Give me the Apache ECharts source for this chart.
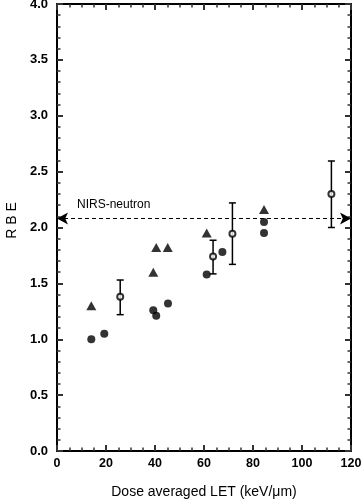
<!DOCTYPE html>
<html><head><meta charset="utf-8">
<script src="https://cdn.jsdelivr.net/npm/echarts@6/dist/echarts.min.js"></script>
<style>html,body{margin:0;padding:0;background:#fff}#c{width:361px;height:500px}</style>
</head><body><div id="c"></div>
<script>
// ---- data ----
const xTickLabels = ['0','20','40','60','80','100','120'];
const yTickLabels = ['0.0','0.5','1.0','1.5','2.0','2.5','3.0','3.5','4.0'];
const triangleLET = [14, 39.3, 40.5, 45.2, 61.1, 84.5];
const triangleRBE = [1.30, 1.60, 1.82, 1.82, 1.95, 2.16];
const circleLET = [14, 19.3, 39.3, 40.5, 45.3, 61.1, 67.5, 84.5, 84.5];
const circleRBE = [1.00, 1.05, 1.26, 1.21, 1.32, 1.58, 1.78, 2.05, 1.95];
const openLET = [25.8, 63.7, 71.6, 112];
const openRBE = [1.38, 1.74, 1.945, 2.30];
const openLow = [1.22, 1.585, 1.67, 2.00];
const openHigh = [1.53, 1.886, 2.22, 2.595];
const neutronRBE = 2.08;
const neutronName = 'NIRS-neutron';
const xName = 'Dose averaged LET (keV/\u03bcm)';
const yName = 'R B E';

const FONT = "'Liberation Sans', Arial, sans-serif";
const TICK = '#333333';
const chart = echarts.init(document.getElementById('c'), null, {renderer: 'canvas'});

function axis(base, position, showLabel, minorSplit, extra) {
  return Object.assign({}, base, {
    position: position,
    axisLine: {show: true, onZero: false, lineStyle: {color: '#000', width: 2}},
    axisTick: {show: true, inside: true, length: 6, lineStyle: {color: TICK, width: 2}},
    minorTick: {show: true, splitNumber: minorSplit, length: 3.5, lineStyle: {color: TICK, width: 1.5}},
    splitLine: {show: false},
    axisLabel: {show: showLabel}
  }, extra || {});
}

const xBase = {type: 'value', min: 0, max: 120, interval: 20};
const yBase = {type: 'value', min: 0, max: 4, interval: 0.5};

const option = {
  animation: false,
  grid: {left: 57, right: 10, top: 4, bottom: 49, outerBoundsMode: 'none'},
  xAxis: [
    axis(xBase, 'bottom', true, 4, {
      axisLabel: {show: true, color: '#000', fontFamily: FONT, fontWeight: 'bold', fontSize: 12.5, margin: 6,
        formatter: v => xTickLabels[Math.round(v / 20)]},
      name: xName, nameLocation: 'middle', nameGap: 34,
      nameTextStyle: {color: '#000', fontFamily: FONT, fontSize: 14}
    }),
    axis(xBase, 'top', false, 4)
  ],
  yAxis: [
    axis(yBase, 'left', true, 5, {
      axisLabel: {show: true, color: '#000', fontFamily: FONT, fontWeight: 'bold', fontSize: 13, margin: 9,
        formatter: v => yTickLabels[Math.round(v / 0.5)]},
      name: yName, nameLocation: 'middle', nameGap: 38, nameRotate: 90,
      nameTextStyle: {color: '#000', fontFamily: FONT, fontSize: 14, padding: [0, 0, 0, 14]}
    }),
    axis(yBase, 'right', false, 5)
  ],
  series: [
    {
      type: 'line', xAxisIndex: 0, yAxisIndex: 0, data: [], silent: true,
      markLine: {
        silent: true,
        symbol: ['arrow', 'arrow'], symbolSize: [9, 11],
        itemStyle: {color: '#000'},
        lineStyle: {color: '#000', type: [4, 3], width: 1},
        label: {show: true, position: 'insideStartTop', formatter: neutronName, distance: [20, 8],
          color: '#000', fontFamily: FONT, fontSize: 12},
        data: [[{coord: [0, neutronRBE]}, {coord: [120, neutronRBE]}]]
      }
    },
    {
      type: 'custom', xAxisIndex: 0, yAxisIndex: 0, silent: true,
      data: openLET.map((x, i) => [x, openLow[i], openHigh[i]]),
      renderItem: function (params, api) {
        const lo = api.coord([api.value(0), api.value(1)]);
        const hi = api.coord([api.value(0), api.value(2)]);
        const w = 3.5;
        const style = {stroke: '#000', lineWidth: 1.5};
        return {type: 'group', children: [
          {type: 'line', shape: {x1: lo[0], y1: lo[1], x2: hi[0], y2: hi[1]}, style: style},
          {type: 'line', shape: {x1: lo[0] - w, y1: lo[1], x2: lo[0] + w, y2: lo[1]}, style: style},
          {type: 'line', shape: {x1: hi[0] - w, y1: hi[1], x2: hi[0] + w, y2: hi[1]}, style: style}
        ]};
      },
      z: 3
    },
    {
      type: 'scatter', xAxisIndex: 0, yAxisIndex: 0, symbol: 'triangle', symbolSize: [10, 9],
      itemStyle: {color: '#000'},
      data: triangleLET.map((x, i) => [x, triangleRBE[i]]), z: 4
    },
    {
      type: 'scatter', xAxisIndex: 0, yAxisIndex: 0, symbol: 'circle', symbolSize: 8,
      itemStyle: {color: '#000'},
      data: circleLET.map((x, i) => [x, circleRBE[i]]), z: 4
    },
    {
      type: 'scatter', xAxisIndex: 0, yAxisIndex: 0, symbol: 'circle', symbolSize: 6,
      itemStyle: {color: '#fff', borderColor: '#000', borderWidth: 2},
      data: openLET.map((x, i) => [x, openRBE[i]]), z: 5
    }
  ]
};
chart.setOption(option);
</script>
</body></html>
